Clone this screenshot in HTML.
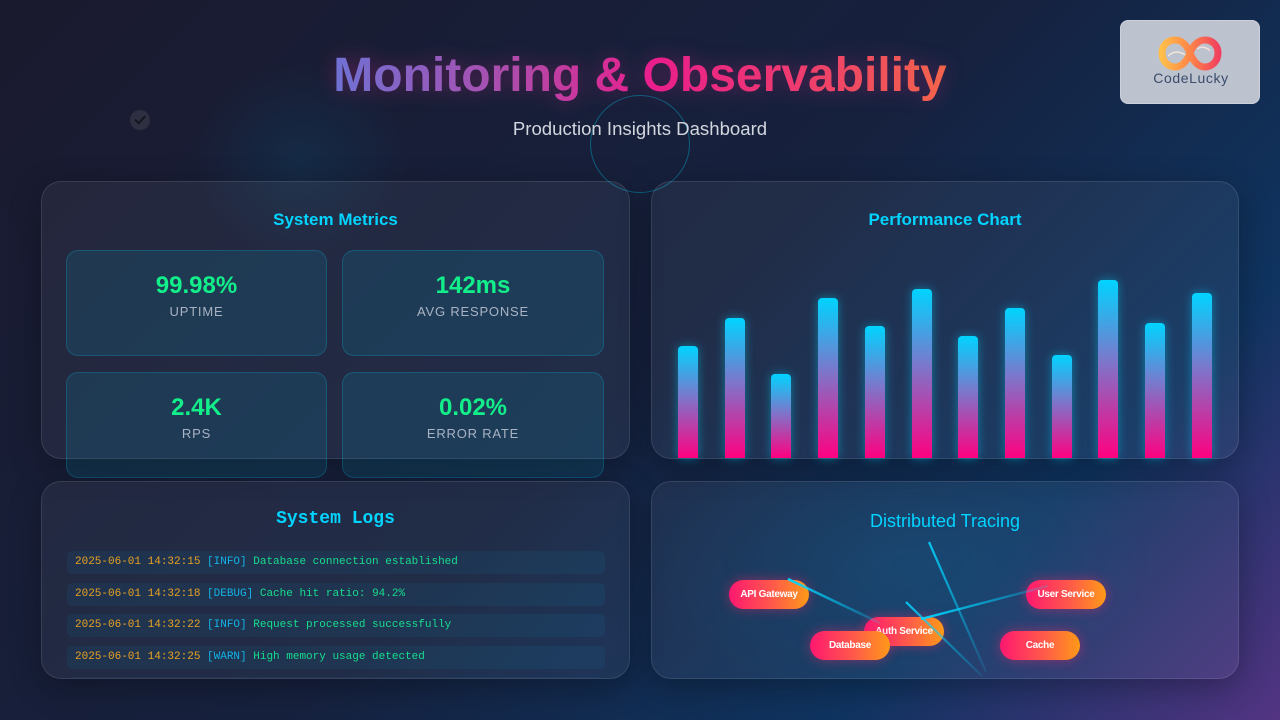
<!DOCTYPE html>
<html>
<head>
<meta charset="utf-8">
<style>
*{margin:0;padding:0;box-sizing:border-box;}
html,body{width:1280px;height:720px;overflow:hidden;}
body{
  position:relative;
  font-family:"Liberation Sans",sans-serif;
  background:linear-gradient(135deg,#1a1a2e 0%,#16213e 50%,#0f3460 78%,#533483 100%);
}
.abs{position:absolute;}
.glow{position:absolute;left:190px;top:60px;width:220px;height:200px;border-radius:50%;
  background:radial-gradient(ellipse at center,rgba(0,130,180,0.13) 0%,rgba(0,120,170,0.05) 45%,rgba(0,0,0,0) 70%);}
.title{position:absolute;left:0;width:1280px;top:46px;line-height:60px;font-size:48px;font-weight:bold;text-align:center;}
.title span{
  background:linear-gradient(90deg,#6e72d4 0%,#b14aaa 30%,#e91e8c 52%,#ee3a70 75%,#f2644a 100%);
  -webkit-background-clip:text;background-clip:text;color:transparent;
  filter:drop-shadow(0 0 10px rgba(220,40,140,0.35));
}
.subtitle{position:absolute;left:0;width:1280px;top:117px;line-height:24px;font-size:18.6px;color:#d2d6de;text-align:center;}
.ring{position:absolute;left:590px;top:95px;width:100px;height:98px;border-radius:50%;border:1.5px solid rgba(0,170,210,0.45);}
.check{position:absolute;left:130px;top:110px;width:20px;height:20px;border-radius:50%;background:#2e2f40;}
.logo{position:absolute;left:1120px;top:20px;width:140px;height:84px;border-radius:8px;background:#bcc2ce;border:1px solid rgba(255,255,255,0.25);}
.logo .txt{position:absolute;left:0;width:140px;top:48px;line-height:18px;text-align:center;font-size:14px;color:#3a4d6c;letter-spacing:0.6px;}
.card{position:absolute;border-radius:20px;background:rgba(255,255,255,0.05);border:1px solid rgba(255,255,255,0.1);
  box-shadow:0 8px 32px rgba(0,0,0,0.3);}
.ctitle{position:absolute;left:0;right:0;text-align:center;line-height:24px;color:#00d4ff;}
.mbox{position:absolute;border-radius:12px;background:rgba(0,212,255,0.1);border:1px solid rgba(0,212,255,0.2);}
.mval{position:absolute;left:0;right:0;top:20px;line-height:30px;text-align:center;font-size:24px;font-weight:bold;color:#12ef8a;}
.mlab{position:absolute;left:0;right:0;top:52px;line-height:18px;text-align:center;font-size:13px;color:#a9b3c3;letter-spacing:0.8px;}
.bar{position:absolute;width:20px;border-radius:4px 4px 0 0;background:linear-gradient(to bottom,#00d4ff 0%,#7a78cc 45%,#ff0080 100%);
  box-shadow:0 0 10px rgba(0,212,255,0.45);}
.log{position:absolute;left:25px;width:538px;height:23px;border-radius:5px;background:rgba(0,212,255,0.06);
  font-family:"Liberation Mono",monospace;font-size:11px;line-height:23px;padding-left:8px;white-space:nowrap;color:#18dc8e;}
.ts{color:#e9a323;}
.lv{color:#13b2e6;}
.node{position:absolute;width:80px;height:29px;border-radius:15px;background:linear-gradient(90deg,#ff1870 0%,#ff5a4a 55%,#ff9a18 100%);
  box-shadow:0 0 12px rgba(255,40,110,0.45);color:#fff;font-size:10px;font-weight:bold;text-align:center;line-height:29px;letter-spacing:-0.3px;}
</style>
</head>
<body>
<div class="glow"></div>
<div class="check">
  <svg width="20" height="20" viewBox="0 0 20 20"><path d="M5.5 10.2 L8.6 13.2 L14.6 6.8" fill="none" stroke="#15151f" stroke-width="2" stroke-linecap="round" stroke-linejoin="round"/></svg>
</div>
<div class="ring"></div>
<div class="title"><span>Monitoring &amp; Observability</span></div>
<div class="subtitle">Production Insights Dashboard</div>

<div class="logo">
  <svg class="abs" style="left:0;top:0" width="140" height="52" viewBox="1120 20 140 52">
    <defs>
      <linearGradient id="lg" gradientUnits="userSpaceOnUse" x1="1160" y1="0" x2="1218" y2="0">
        <stop offset="0" stop-color="#ffc04a"/>
        <stop offset="0.5" stop-color="#ff8548"/>
        <stop offset="1" stop-color="#f0405e"/>
      </linearGradient>
    </defs>
    <path d="M1189,52 C1185,42 1179,39 1174,39 C1166,39 1161,45 1161,52 C1161,60 1167,66 1174,66 C1180,66 1185,62 1189,52 C1193,42 1199,39 1204,39 C1212,39 1217,45 1217,52 C1217,60 1211,66 1204,66 C1198,66 1193,62 1189,52 Z" fill="none" stroke="url(#lg)" stroke-width="7"/>
    <path d="M1167,55 C1172,50 1179,50 1184,54" fill="none" stroke="#fff0dc" stroke-width="1.4" opacity="0.85"/>
    <path d="M1196,48 C1200,45 1206,46 1209,50" fill="none" stroke="#ffe6dc" stroke-width="1.4" opacity="0.85"/>
  </svg>
  <div class="txt">CodeLucky</div>
</div>

<!-- System Metrics -->
<div class="card" style="left:41px;top:181px;width:589px;height:278px;">
  <div class="ctitle" style="top:26px;font-size:17px;font-weight:bold;">System Metrics</div>
</div>
<div class="mbox" style="left:66px;top:250px;width:261px;height:106px;"><div class="mval">99.98%</div><div class="mlab">UPTIME</div></div>
<div class="mbox" style="left:342px;top:250px;width:262px;height:106px;"><div class="mval">142ms</div><div class="mlab">AVG RESPONSE</div></div>
<div class="mbox" style="left:66px;top:372px;width:261px;height:106px;"><div class="mval">2.4K</div><div class="mlab">RPS</div></div>
<div class="mbox" style="left:342px;top:372px;width:262px;height:106px;"><div class="mval">0.02%</div><div class="mlab">ERROR RATE</div></div>

<!-- Performance Chart -->
<div class="card" style="left:651px;top:181px;width:588px;height:278px;overflow:hidden;">
  <div class="ctitle" style="top:26px;font-size:17px;font-weight:bold;">Performance Chart</div>
</div>
<div class="bar" style="left:678px;top:346px;height:112px;"></div>
<div class="bar" style="left:725px;top:318px;height:140px;"></div>
<div class="bar" style="left:771px;top:374px;height:84px;"></div>
<div class="bar" style="left:818px;top:298px;height:160px;"></div>
<div class="bar" style="left:865px;top:326px;height:132px;"></div>
<div class="bar" style="left:912px;top:289px;height:169px;"></div>
<div class="bar" style="left:958px;top:336px;height:122px;"></div>
<div class="bar" style="left:1005px;top:308px;height:150px;"></div>
<div class="bar" style="left:1052px;top:355px;height:103px;"></div>
<div class="bar" style="left:1098px;top:280px;height:178px;"></div>
<div class="bar" style="left:1145px;top:323px;height:135px;"></div>
<div class="bar" style="left:1192px;top:293px;height:165px;"></div>

<!-- System Logs -->
<div class="card" style="left:41px;top:481px;width:589px;height:198px;overflow:hidden;">
  <div class="ctitle" style="top:25px;font-size:18px;font-weight:bold;font-family:'Liberation Mono',monospace;">System Logs</div>
  <div class="log" style="top:69px;"><span class="ts">2025-06-01 14:32:15</span> <span class="lv">[INFO]</span> Database connection established</div>
  <div class="log" style="top:100.5px;"><span class="ts">2025-06-01 14:32:18</span> <span class="lv">[DEBUG]</span> Cache hit ratio: 94.2%</div>
  <div class="log" style="top:132px;"><span class="ts">2025-06-01 14:32:22</span> <span class="lv">[INFO]</span> Request processed successfully</div>
  <div class="log" style="top:163.5px;"><span class="ts">2025-06-01 14:32:25</span> <span class="lv">[WARN]</span> High memory usage detected</div>
  <div class="log" style="top:195px;"></div>
</div>

<!-- Distributed Tracing -->
<div class="card" style="left:651px;top:481px;width:588px;height:198px;overflow:hidden;
  background:radial-gradient(ellipse 260px 140px at 250px 80px,rgba(0,150,210,0.12),rgba(0,0,0,0) 100%),rgba(255,255,255,0.05);">
  <div class="ctitle" style="top:27px;font-size:18px;">Distributed Tracing</div>
</div>
<div class="node" style="left:729px;top:580px;">API Gateway</div>
<div class="node" style="left:1026px;top:580px;">User Service</div>
<div class="node" style="left:864px;top:617px;">Auth Service</div>
<div class="node" style="left:810px;top:631px;">Database</div>
<div class="node" style="left:1000px;top:631px;">Cache</div>
<svg class="abs" style="left:0;top:0" width="1280" height="720" viewBox="0 0 1280 720">
  <defs>
    <linearGradient id="l1" gradientUnits="userSpaceOnUse" x1="929" y1="542" x2="986" y2="672"><stop offset="0" stop-color="#00d4ff" stop-opacity="0.9"/><stop offset="1" stop-color="#00d4ff" stop-opacity="0.1"/></linearGradient>
    <linearGradient id="l2" gradientUnits="userSpaceOnUse" x1="788" y1="579" x2="880" y2="623"><stop offset="0" stop-color="#00d4ff" stop-opacity="1"/><stop offset="1" stop-color="#00d4ff" stop-opacity="0.15"/></linearGradient>
    <linearGradient id="l3" gradientUnits="userSpaceOnUse" x1="921" y1="619" x2="1048" y2="586"><stop offset="0" stop-color="#00d4ff" stop-opacity="1"/><stop offset="1" stop-color="#00d4ff" stop-opacity="0.15"/></linearGradient>
    <linearGradient id="l4" gradientUnits="userSpaceOnUse" x1="906" y1="602" x2="982" y2="676"><stop offset="0" stop-color="#00d4ff" stop-opacity="0.9"/><stop offset="1" stop-color="#00d4ff" stop-opacity="0.1"/></linearGradient>
  </defs>
  <line x1="929" y1="542" x2="986" y2="672" stroke="url(#l1)" stroke-width="2.2"/>
  <line x1="788" y1="579" x2="880" y2="623" stroke="url(#l2)" stroke-width="2.4"/>
  <line x1="921" y1="619" x2="1048" y2="586" stroke="url(#l3)" stroke-width="2.4"/>
  <line x1="906" y1="602" x2="982" y2="676" stroke="url(#l4)" stroke-width="2.2"/>
</svg>
</body>
</html>
